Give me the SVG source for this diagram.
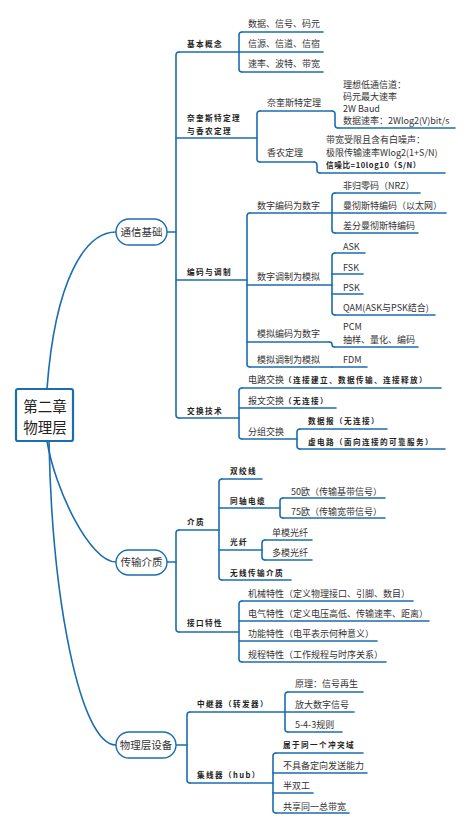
<svg xmlns="http://www.w3.org/2000/svg" width="474" height="835" viewBox="0 0 474 835">
<style>
.c{fill:none;stroke:#1b6db0;stroke-width:1.6;stroke-linecap:round}
.u{fill:none;stroke:#1b6db0;stroke-width:1.6;stroke-linecap:round}
.t{font-family:"Noto Sans CJK SC","Noto Sans",sans-serif;font-size:9px;fill:#333}
.b{font-family:"Noto Sans CJK SC","Noto Sans",sans-serif;font-size:7.6px;font-weight:bold;letter-spacing:1.4px;fill:#222}
.p{fill:#fff;stroke:#1b6db0;stroke-width:1.4}
.pt{font-family:"Noto Sans CJK SC","Noto Sans",sans-serif;font-size:10.5px;fill:#333;text-anchor:middle}
.rt{font-family:"Noto Sans CJK SC","Noto Sans",sans-serif;font-size:14.5px;fill:#222;text-anchor:middle}
</style>
<rect width="474" height="835" fill="#fff"/>
<g id="connectors">
<path class="c" d="M47,389 C55,280 85,232 116,232"/>
<path class="c" d="M47,441 C55,490 90,562 116,562"/>
<path class="c" d="M49,441 C52,600 80,745 116,745"/>
<path class="c" d="M167,232 H176"/>
<path class="c" d="M179,52 Q176,52 176,55 V415 Q176,418 179,418"/>
<path class="c" d="M242,32 Q239,32 239,35 V69 Q239,72 242,72"/>
<path class="c" d="M260,111 Q257,111 257,114 V159 Q257,162 260,162"/>
<path class="c" d="M332,111 Q335,111 335,114 V125 Q335,128 338,128"/>
<path class="c" d="M314,162 Q317,162 317,165 V170 Q317,173 320,173"/>
<path class="c" d="M250,213 Q247,213 247,216 V364 Q247,367 250,367"/>
<path class="c" d="M335,193 Q332,193 332,196 V230 Q332,233 335,233"/>
<path class="c" d="M335,253 Q332,253 332,256 V312 Q332,315 335,315"/>
<path class="c" d="M329.5,342 Q332,342 332,344.5 Q332,347 334.5,347"/>
<path class="c" d="M242,388 Q239,388 239,391 V436 Q239,439 242,439"/>
<path class="c" d="M300,429 Q297,429 297,432 V446 Q297,449 300,449"/>
<path class="c" d="M167,562 H176"/>
<path class="c" d="M179,530 Q176,530 176,533 V629 Q176,632 179,632"/>
<path class="c" d="M222,479 Q219,479 219,482 V577 Q219,580 222,580"/>
<path class="c" d="M283,498 Q280,498 280,501 V515 Q280,518 283,518"/>
<path class="c" d="M265,540 Q262,540 262,543 V557 Q262,560 265,560"/>
<path class="c" d="M242,601 Q239,601 239,604 V659 Q239,662 242,662"/>
<path class="c" d="M176,745 H187"/>
<path class="c" d="M190,712 Q187,712 187,715 V780 Q187,783 190,783"/>
<path class="c" d="M288,692 Q285,692 285,695 V729 Q285,732 288,732"/>
<path class="c" d="M276,753 Q273,753 273,756 V810 Q273,813 276,813"/>
</g>
<g id="root"><rect x="16" y="389" width="57" height="52" rx="2" fill="#fff" stroke="#1b6db0" stroke-width="2.2"/><text class="rt" x="45" y="412">第二章</text><text class="rt" x="45" y="433">物理层</text></g>
<g id="n-txjc"><rect class="p" x="116" y="219" width="51" height="26" rx="13"/><text class="pt" x="141.5" y="236">通信基础</text></g>
<g id="n-csjz"><rect class="p" x="116" y="550" width="51" height="25" rx="12.5"/><text class="pt" x="141.5" y="566">传输介质</text></g>
<g id="n-wlcsb"><rect class="p" x="116" y="732" width="60" height="26" rx="13"/><text class="pt" x="146" y="749">物理层设备</text></g>
<g id="n-jbgn"><text class="b" x="187" y="47">基本概念</text><path class="u" d="M179,52 H239"/></g>
<g id="n-sj"><text class="t" x="248" y="27">数据、信号、码元</text><path class="u" d="M242,32 H323"/></g>
<g id="n-xy"><text class="t" x="248" y="47">信源、信道、信宿</text><path class="u" d="M239,52 H323"/></g>
<g id="n-sl"><text class="t" x="248" y="67">速率、波特、带宽</text><path class="u" d="M242,72 H323"/></g>
<g id="n-nk"><text class="b" x="187" y="121">奈奎斯特定理</text><text class="b" x="187" y="134">与香农定理</text><path class="u" d="M176,138 H257"/></g>
<g id="n-nkst"><text class="t" x="267" y="106">奈奎斯特定理</text><path class="u" d="M260,111 H332"/></g>
<g id="n-nkst-d"><text class="t" x="343" y="88">理想低通信道：</text><text class="t" x="343" y="100">码元最大速率</text><text class="t" x="343" y="112">2W Baud</text><text class="t" x="343" y="124">数据速率：2Wlog2(V)bit/s</text><path class="u" d="M338,128 H455"/></g>
<g id="n-xn"><text class="t" x="267" y="156">香农定理</text><path class="u" d="M260,162 H314"/></g>
<g id="n-xn-d"><text class="t" x="326" y="143">带宽受限且含有白噪声：</text><text class="t" x="326" y="156">极限传输速率Wlog2(1+S/N)</text><text class="b" x="326" y="168" style="letter-spacing:0.6px">信噪比=10log10（S/N）</text><path class="u" d="M320,173 H445"/></g>
<g id="n-bmtz"><text class="b" x="187" y="275">编码与调制</text><path class="u" d="M176,280 H247"/></g>
<g id="n-szbm"><text class="t" x="257" y="209">数字编码为数字</text><path class="u" d="M250,213 H332"/></g>
<g id="n-nrz"><text class="t" x="343" y="189">非归零码（NRZ）</text><path class="u" d="M335,193 H420"/></g>
<g id="n-mcst"><text class="t" x="343" y="209">曼彻斯特编码（以太网）</text><path class="u" d="M332,213 H446"/></g>
<g id="n-cfmc"><text class="t" x="343" y="229">差分曼彻斯特编码</text><path class="u" d="M335,233 H418"/></g>
<g id="n-sztz"><text class="t" x="257" y="280">数字调制为模拟</text><path class="u" d="M247,285 H332"/></g>
<g id="n-ask"><text class="t" x="343" y="250">ASK</text><path class="u" d="M335,253 H365"/></g>
<g id="n-fsk"><text class="t" x="343" y="271">FSK</text><path class="u" d="M332,274 H363"/></g>
<g id="n-psk"><text class="t" x="343" y="291">PSK</text><path class="u" d="M332,294 H363"/></g>
<g id="n-qam"><text class="t" x="343" y="311">QAM(ASK与PSK结合)</text><path class="u" d="M335,315 H435"/></g>
<g id="n-mnbm"><text class="t" x="257" y="337">模拟编码为数字</text><path class="u" d="M247,342 H329.5"/></g>
<g id="n-pcm"><text class="t" x="343" y="330">PCM</text><text class="t" x="343" y="343">抽样、量化、编码</text><path class="u" d="M334.5,347 H418"/></g>
<g id="n-mntz"><text class="t" x="257" y="363">模拟调制为模拟</text><path class="u" d="M250,367 H332"/></g>
<g id="n-fdm"><text class="t" x="343" y="363">FDM</text><path class="u" d="M332,367 H367"/></g>
<g id="n-jhjs"><text class="b" x="187" y="414">交换技术</text><path class="u" d="M179,418 H239"/></g>
<g id="n-dljh"><text class="t" x="248" y="383">电路交换<tspan class="b">（连接建立、数据传输、连接释放）</tspan></text><path class="u" d="M242,388 H441"/></g>
<g id="n-bwjh"><text class="t" x="248" y="404">报文交换<tspan class="b">（无连接）</tspan></text><path class="u" d="M239,408 H336"/></g>
<g id="n-fzjh"><text class="t" x="248" y="435">分组交换</text><path class="u" d="M242,439 H297"/></g>
<g id="n-sjb"><text class="b" x="308" y="424">数据报（无连接）</text><path class="u" d="M300,429 H387"/></g>
<g id="n-xdl"><text class="b" x="308" y="445">虚电路（面向连接的可靠服务）</text><path class="u" d="M300,449 H445"/></g>
<g id="n-jz"><text class="b" x="187" y="525">介质</text><path class="u" d="M179,530 H219"/></g>
<g id="n-sjx"><text class="b" x="230" y="474">双绞线</text><path class="u" d="M222,479 H262"/></g>
<g id="n-tzdl"><text class="b" x="230" y="504">同轴电缆</text><path class="u" d="M219,508 H280"/></g>
<g id="n-50"><text class="t" x="291" y="495">50欧（传输基带信号）</text><path class="u" d="M283,498 H385"/></g>
<g id="n-75"><text class="t" x="291" y="515">75欧（传输宽带信号）</text><path class="u" d="M283,518 H385"/></g>
<g id="n-gx"><text class="b" x="230" y="545">光纤</text><path class="u" d="M219,550 H262"/></g>
<g id="n-dmgx"><text class="t" x="272" y="536">单模光纤</text><path class="u" d="M265,540 H312"/></g>
<g id="n-duomgx"><text class="t" x="272" y="556">多模光纤</text><path class="u" d="M265,560 H312"/></g>
<g id="n-wx"><text class="b" x="230" y="576">无线传输介质</text><path class="u" d="M222,580 H291"/></g>
<g id="n-jktx"><text class="b" x="187" y="626">接口特性</text><path class="u" d="M179,632 H239"/></g>
<g id="n-jx"><text class="t" x="248" y="597">机械特性（定义物理接口、引脚、数目）</text><path class="u" d="M242,601 H413"/></g>
<g id="n-dq"><text class="t" x="248" y="617">电气特性（定义电压高低、传输速率、距离）</text><path class="u" d="M239,621 H429"/></g>
<g id="n-gn"><text class="t" x="248" y="637">功能特性（电平表示何种意义）</text><path class="u" d="M239,641 H377"/></g>
<g id="n-gc"><text class="t" x="248" y="658">规程特性（工作规程与时序关系）</text><path class="u" d="M242,662 H386"/></g>
<g id="n-zjq"><text class="b" x="197" y="707">中继器（转发器）</text><path class="u" d="M190,712 H285"/></g>
<g id="n-yl"><text class="t" x="295" y="687">原理：信号再生</text><path class="u" d="M288,692 H363"/></g>
<g id="n-fd"><text class="t" x="295" y="708">放大数字信号</text><path class="u" d="M285,712 H354"/></g>
<g id="n-543"><text class="t" x="295" y="728">5-4-3规则</text><path class="u" d="M288,732 H342"/></g>
<g id="n-jxq"><text class="b" x="197" y="778">集线器（hub）</text><path class="u" d="M190,783 H273"/></g>
<g id="n-cty"><text class="b" x="283" y="748">属于同一个冲突域</text><path class="u" d="M276,753 H363"/></g>
<g id="n-bjb"><text class="t" x="283" y="769">不具备定向发送能力</text><path class="u" d="M273,773 H367"/></g>
<g id="n-bsg"><text class="t" x="283" y="789">半双工</text><path class="u" d="M273,793 H313"/></g>
<g id="n-gx2"><text class="t" x="283" y="810">共享同一总带宽</text><path class="u" d="M276,813 H349"/></g>
</svg>
